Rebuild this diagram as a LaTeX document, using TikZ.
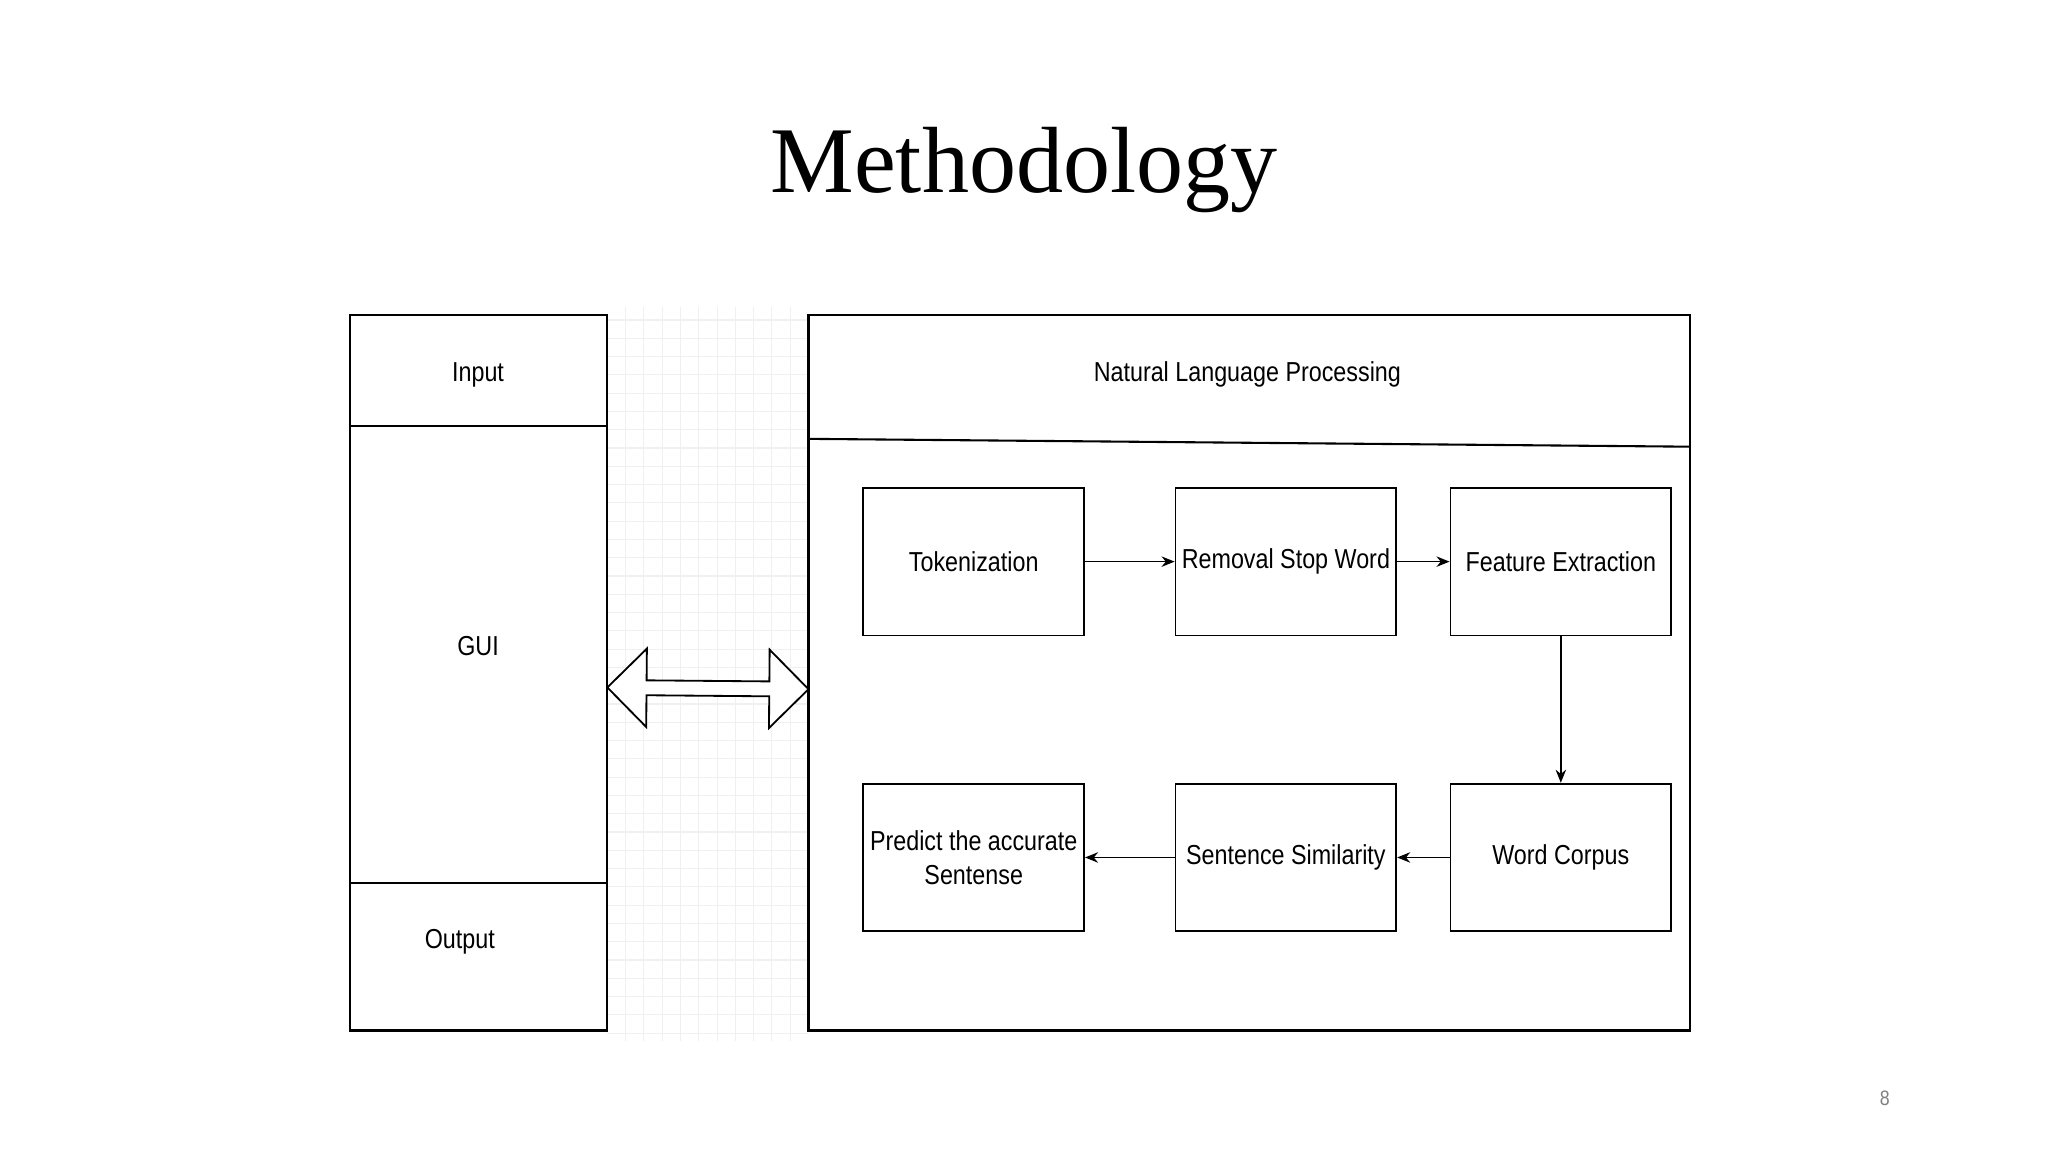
\documentclass[tikz,border=0pt]{standalone}
\usepackage{fontspec}
\setmainfont{Liberation Sans}[FakeStretch=0.85]
\newfontfamily\titlefont{Liberation Serif}
\usetikzlibrary{arrows.meta,shapes.arrows}
\begin{document}
\begin{tikzpicture}[x=0.5pt,y=-0.5pt,
  box/.style={draw,line width=0.7pt,minimum width=84.5pt,minimum height=56.5pt,inner sep=2pt,align=center,font=\fontsize{10.5}{13}\selectfont},
  lbl/.style={font=\fontsize{10.5}{13}\selectfont},
  arr/.style={-{Stealth[length=5pt,width=4pt]},line width=0.6pt}]
\useasboundingbox (0,0) rectangle (1568,882);
% faint grid
\begin{scope}[gray!12,line width=0.4pt]
\foreach \x in {479,493,507,521,535,549,563,577,591,605} \draw (\x,235) -- (\x,797);
\foreach \y in {245,259,273,287,301,315,329,343,357,371,385,399,413,427,441,455,469,483,497,511,525,539,553,567,581,595,609,623,637,651,665,679,693,707,721,735,749,763,777,791} \draw (465,\y) -- (619,\y);
\end{scope}
\node[font=\titlefont\fontsize{36}{40}\selectfont] (title) at (784,130) {Methodology};
% left box
\draw[line width=0.8pt] (268,241) rectangle (465,789);
\draw[line width=0.8pt] (268,326) -- (465,326);
\draw[line width=0.8pt] (268,676) -- (465,676);
\node[lbl] (in) at (366,287) {Input};
\node[lbl] (gui) at (366,495) {GUI};
\node[lbl] (out) at (352,721) {Output};
% right box
\draw[line width=0.8pt] (619,241) rectangle (1294,789);
\draw[line width=0.8pt] (619,336) -- (1294,342);
\node[lbl] (nlp) at (955,287) {Natural Language Processing};
% double arrow
\node[double arrow,draw,line width=0.7pt,fill=white,minimum width=30pt,minimum height=77pt,double arrow head extend=10pt,double arrow tip angle=90,inner sep=2pt,rotate=-0.5] (da) at (542,527) {};
% process boxes
\node[box] (tok) at (745.5,430) {Tokenization};
\node[box] (rem) at (984.5,430) {Removal Stop Word};
\node[box] (fea) at (1195,430) {Feature Extraction};
\node[box] (pre) at (745.5,656.5) {Predict the accurate\\Sentense};
\node[box] (sen) at (984.5,656.5) {Sentence Similarity};
\node[box] (wor) at (1195,656.5) {Word Corpus};
\draw[arr] (tok) -- (rem);
\draw[arr] (rem) -- (fea);
\draw[arr] (fea) -- (wor);
\draw[arr] (wor) -- (sen);
\draw[arr] (sen) -- (pre);
\node[font=\fontsize{8}{10}\selectfont,text=gray] (pg) at (1443,841) {8};
\end{tikzpicture}
\end{document}
